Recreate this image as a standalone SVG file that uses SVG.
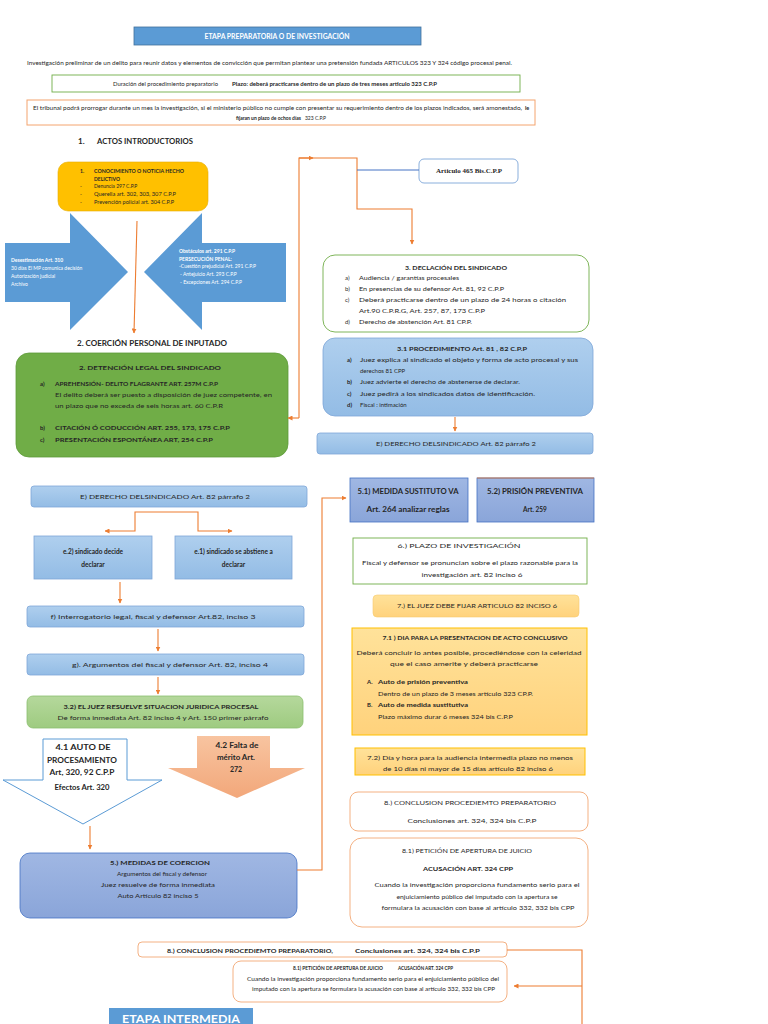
<svg xmlns="http://www.w3.org/2000/svg" width="768" height="1024" viewBox="0 0 768 1024">
<style>
text{font-family:Lato,"Liberation Sans",sans-serif;fill:#262626}
.b{font-weight:bold}
.w{fill:#fff}
.m{text-anchor:middle}
.s5{font-size:5px}.s55{font-size:5.5px}.s6{font-size:6px}.s65{font-size:6.5px}.s7{font-size:7px}.s8{font-size:8px}
.con{fill:none;stroke:#ED7D31;stroke-width:1.1}
.blu{fill:url(#gb);stroke:#7EA6D8;stroke-width:0.8}
.vio{fill:url(#gv);stroke:#4472C4;stroke-width:0.8}
.org{fill:url(#go);stroke:#FFC000;stroke-width:1}
.obox{fill:#fff;stroke:#F4B183;stroke-width:1}
.gbox{fill:#fff;stroke:#70AD47;stroke-width:0.9}
</style>
<defs>
<linearGradient id="gb" x1="0" y1="0" x2="0" y2="1"><stop offset="0" stop-color="#AFCFEE"/><stop offset="1" stop-color="#93BCE5"/></linearGradient>
<linearGradient id="gv" x1="0" y1="0" x2="0" y2="1"><stop offset="0" stop-color="#A0B7E3"/><stop offset="1" stop-color="#8AA5D9"/></linearGradient>
<linearGradient id="go" x1="0" y1="0" x2="0" y2="1"><stop offset="0" stop-color="#FFE29A"/><stop offset="1" stop-color="#FFD27C"/></linearGradient>
<linearGradient id="gs" x1="0" y1="0" x2="0" y2="1"><stop offset="0" stop-color="#F8C4A0"/><stop offset="1" stop-color="#F2A77A"/></linearGradient>
<linearGradient id="gg" x1="0" y1="0" x2="0" y2="1"><stop offset="0" stop-color="#B5D89C"/><stop offset="1" stop-color="#9ECB80"/></linearGradient>
<marker id="ar" viewBox="0 0 10 10" refX="9" refY="5" markerWidth="5" markerHeight="5" markerUnits="userSpaceOnUse" orient="auto-start-reverse"><path d="M0,0L10,5L0,10z" fill="#ED7D31"/></marker>
</defs>

<g id="title"><rect x="134" y="27" width="287" height="18" fill="#5B9BD5" stroke="#41719C" stroke-width="0.8"/><text class="b w m" x="277" y="38.5" font-size="7" textLength="145" lengthAdjust="spacingAndGlyphs">ETAPA PREPARATORIA O DE INVESTIGACIÓN</text></g>

<g id="intro"><text class="s55" x="27" y="65" textLength="485" lengthAdjust="spacingAndGlyphs">Investigación preliminar de un delito para reunir datos y elementos de convicción que permitan plantear una pretensión fundada ARTICULOS 323 Y 324 código procesal penal.</text></g>

<g id="duracion"><rect class="gbox" x="52" y="75" width="468" height="17"/>
<text class="s55" x="113" y="85.5" textLength="105" lengthAdjust="spacingAndGlyphs">Duración del procedimiento preparatorio</text>
<text class="s55 b" x="232" y="85.5" textLength="205" lengthAdjust="spacingAndGlyphs">Plazo: deberá practicarse dentro de un plazo de tres meses articulo 323 C.P.P</text></g>

<g id="prorroga"><rect x="27" y="100" width="508" height="25" fill="#fff" stroke="#F4A46E" stroke-width="1"/>
<text class="s55" x="33" y="110" textLength="489" lengthAdjust="spacingAndGlyphs">El tribunal podrá prorrogar durante un mes la investigación, si el ministerio público no cumple con presentar su requerimiento dentro de los plazos indicados, será amonestado,</text>
<text class="s55 b" x="525" y="110">le</text>
<text class="s5 m" x="281" y="120"><tspan class="b">fijaran un plazo de ochos días</tspan><tspan dx="4">323 C.P.P</tspan></text></g>

<g id="h1"><text class="s8 b" x="78" y="143.5">1.</text><text class="s8 b" x="97" y="143.5" textLength="96" lengthAdjust="spacingAndGlyphs">ACTOS INTRODUCTORIOS</text></g>

<g id="conocimiento"><rect x="58" y="162" width="150" height="49" rx="10" fill="#FFC000" stroke="#E5AC00" stroke-width="0.6"/>
<text class="s5 b" x="80" y="173">1.</text><text class="s5 b" x="94" y="173" textLength="90" lengthAdjust="spacingAndGlyphs">CONOCIMIENTO  O NOTICIA HECHO</text>
<text class="s5 b" x="94" y="180.5">DELICTIVO</text>
<text class="s5" x="80" y="188">-</text><text class="s5" x="94" y="188">Denuncia 297  C.P.P</text>
<text class="s5" x="80" y="195.5">-</text><text class="s5" x="94" y="195.5" textLength="82" lengthAdjust="spacingAndGlyphs">Querella  art. 302, 303, 307 C.P.P</text>
<text class="s5" x="80" y="203.5">-</text><text class="s5" x="94" y="203.5" textLength="80" lengthAdjust="spacingAndGlyphs">Prevención policial  art. 304 C.P.P</text></g>

<g id="desestimacion"><polygon points="5,243 70,243 70,213 128,272 70,330 70,302 5,302" fill="#5B9BD5"/>
<text class="s5 b w" x="11" y="262">Desestimación  Art. 310</text>
<text class="s5 w" x="11" y="270">30 días El MP comunica decisión</text>
<text class="s5 w" x="11" y="278">Autorización judicial</text>
<text class="s5 w" x="11" y="286">Archivo</text></g>

<g id="obstaculos"><polygon points="286,243 202,243 202,213 144,272 202,330 202,302 286,302" fill="#5B9BD5"/>
<text class="s5 b w" x="179" y="252.5">Obstáculos  art. 291 C.P.P</text>
<text class="s5 b w" x="179" y="260.5">PERSECUCIÓN PENAL:</text>
<text class="s5 w" x="179" y="268">-Cuestión prejudicial Art. 291 C.P.P</text>
<text class="s5 w" x="180" y="276">- Antejuicio Art. 293 C.P.P</text>
<text class="s5 w" x="180" y="284">- Excepciones Art. 294 C.P.P</text></g>

<g id="h2"><text class="s7 b" x="77" y="346" textLength="150" lengthAdjust="spacingAndGlyphs">2. COERCIÓN PERSONAL DE INPUTADO</text></g>

<g id="detencion"><rect x="16" y="353" width="272" height="104" rx="13" fill="#70AD47" stroke="#5E9A3A" stroke-width="0.8"/>
<text class="s6 b m" x="150" y="369.5" textLength="142" lengthAdjust="spacingAndGlyphs">2. DETENCIÓN LEGAL DEL SINDICADO</text>
<text class="s6 b" x="40" y="386">a)</text><text class="s6 b" x="55" y="386" textLength="163" lengthAdjust="spacingAndGlyphs">APREHENSIÓN- DELITO FLAGRANTE  ART. 257M C.P.P</text>
<text class="s6" x="55" y="396.5" textLength="217" lengthAdjust="spacingAndGlyphs">El delito deberá ser puesto a disposición de juez competente, en</text>
<text class="s6" x="55" y="407.5" textLength="168" lengthAdjust="spacingAndGlyphs">un plazo que no exceda de seis horas  art. 60 C.P.R</text>
<text class="s6 b" x="40" y="429.5">b)</text><text class="s6 b" x="55" y="429.5" textLength="175" lengthAdjust="spacingAndGlyphs">CITACIÓN Ó CODUCCIÓN  ART. 255, 173, 175 C.P.P</text>
<text class="s6 b" x="40" y="441.5">c)</text><text class="s6 b" x="55" y="441.5" textLength="158" lengthAdjust="spacingAndGlyphs">PRESENTACIÓN ESPONTÁNEA  ART, 254 C.P.P</text></g>

<g id="articulo465"><rect x="419" y="159" width="99" height="24" rx="5" fill="#fff" stroke="#7EA6D8" stroke-width="0.9"/>
<text class="m" x="469" y="173" font-size="5.5" font-weight="bold" style="font-family:'Liberation Serif',serif" textLength="66" lengthAdjust="spacingAndGlyphs">Articulo 465 Bis.C.P.P</text></g>

<g id="declaracion"><rect class="gbox" x="323" y="255" width="266" height="77" rx="12"/>
<text class="s6 b m" x="456" y="269.5" textLength="102" lengthAdjust="spacingAndGlyphs">3. DECLACIÓN DEL SINDICADO</text>
<text class="s6" x="345" y="280">a)</text><text class="s6" x="359" y="280" textLength="100" lengthAdjust="spacingAndGlyphs">Audiencia / garantías procesales</text>
<text class="s6" x="345" y="290.5">b)</text><text class="s6" x="359" y="290.5" textLength="145" lengthAdjust="spacingAndGlyphs">En presencias de su defensor  Art. 81, 92 C.P.P</text>
<text class="s6" x="345" y="302">c)</text><text class="s6" x="359" y="302" textLength="207" lengthAdjust="spacingAndGlyphs">Deberá practicarse dentro de un plazo de 24 horas o citación</text>
<text class="s6" x="359" y="313" textLength="126" lengthAdjust="spacingAndGlyphs">Art.90 C.P.R.G, Art. 257, 87, 173 C.P.P</text>
<text class="s6" x="345" y="324">d)</text><text class="s6" x="359" y="324" textLength="113" lengthAdjust="spacingAndGlyphs">Derecho de abstención  Art. 81 CP.P.</text></g>

<g id="procedimiento"><rect class="blu" x="323" y="338" width="270" height="78" rx="12"/>
<text class="s6 b m" x="462" y="351" textLength="130" lengthAdjust="spacingAndGlyphs">3.1  PROCEDIMIENTO  Art. 81 , 82  C.P.P</text>
<text class="s6 b" x="347" y="361.5">a)</text><text class="s6" x="360" y="361.5" textLength="218" lengthAdjust="spacingAndGlyphs">Juez explica al sindicado el objeto y forma de acto procesal y sus</text>
<text class="s6" x="360" y="372.5">derechos  81 CPP</text>
<text class="s6 b" x="347" y="384">b)</text><text class="s6" x="360" y="384" textLength="160" lengthAdjust="spacingAndGlyphs">Juez advierte el derecho de abstenerse de declarar.</text>
<text class="s6 b" x="347" y="395.5">c)</text><text class="s6" x="360" y="395.5" textLength="175" lengthAdjust="spacingAndGlyphs">Juez pedirá a los sindicados datos de identificación.</text>
<text class="s6 b" x="347" y="407">d)</text><text class="s6" x="360" y="407">Fiscal : intimación</text></g>

<g id="derechoR"><rect class="blu" x="317" y="433" width="276" height="21" rx="3"/>
<text class="s6 m" x="456" y="446" textLength="160" lengthAdjust="spacingAndGlyphs">E) DERECHO DELSINDICADO   Art. 82   párrafo 2</text></g>

<g id="derechoL"><rect class="blu" x="31" y="486" width="276" height="21" rx="3"/>
<text class="s6 m" x="165" y="499" textLength="170" lengthAdjust="spacingAndGlyphs">E) DERECHO DELSINDICADO   Art. 82   párrafo 2</text></g>

<g id="e2"><rect class="blu" x="34" y="536" width="118" height="43" stroke="#5B9BD5"/>
<text class="s65 b m" x="93" y="554">e.2) sindicado decide</text>
<text class="s65 b m" x="93" y="567">declarar</text></g>

<g id="e1"><rect class="blu" x="175" y="536" width="117" height="43" stroke="#5B9BD5"/>
<text class="s65 b m" x="233.5" y="554">e.1) sindicado se abstiene a</text>
<text class="s65 b m" x="233.5" y="567">declarar</text></g>

<g id="f"><rect class="blu" x="27" y="606" width="277" height="21" rx="3"/>
<text class="s6 m" x="153" y="619" textLength="205" lengthAdjust="spacingAndGlyphs">f)  Interrogatorio legal, fiscal y defensor  Art.82, inciso 3</text></g>

<g id="g"><rect class="blu" x="27" y="654" width="277" height="21" rx="3"/>
<text class="s6 m" x="170" y="667" textLength="196" lengthAdjust="spacingAndGlyphs">g). Argumentos del fiscal y defensor  Art. 82, inciso 4</text></g>

<g id="resuelve"><rect x="27" y="696" width="276" height="32" rx="6" fill="url(#gg)" stroke="#8CBF6E" stroke-width="0.8"/>
<text class="s6 b m" x="161" y="708.5" textLength="195" lengthAdjust="spacingAndGlyphs">3.2) EL JUEZ RESUELVE SITUACION JURIDICA PROCESAL</text>
<text class="s6 m" x="163" y="720" textLength="211" lengthAdjust="spacingAndGlyphs">De forma inmediata Art. 82 inciso 4 y Art. 150   primer párrafo</text></g>

<g id="auto41"><polygon points="43,739 127,739 127,780 162,780 83,824 3,780 43,780" fill="#fff" stroke="#5B9BD5" stroke-width="1"/>
<text class="s7 b m" x="83" y="750" textLength="55" lengthAdjust="spacingAndGlyphs">4.1 AUTO DE</text>
<text class="s7 b m" x="82" y="762.5" textLength="70" lengthAdjust="spacingAndGlyphs">PROCESAMIENTO</text>
<text class="s7 b m" x="82" y="775" textLength="65" lengthAdjust="spacingAndGlyphs">Art, 320, 92 C.P.P</text>
<text class="s7 b m" x="82" y="789.5" textLength="55" lengthAdjust="spacingAndGlyphs">Efectos Art. 320</text></g>

<g id="falta42"><polygon points="197,736 270,736 270,768 305,768 237,798 168,768 197,768" fill="url(#gs)"/>
<text class="s7 b m" x="237" y="747.5" textLength="43" lengthAdjust="spacingAndGlyphs">4.2 Falta de</text>
<text class="s7 b m" x="236" y="759.5" textLength="38" lengthAdjust="spacingAndGlyphs">mérito  Art.</text>
<text class="s7 b m" x="236" y="771.5">272</text></g>

<g id="medidas"><rect class="vio" x="20" y="853" width="277" height="65" rx="10" stroke="#7F9BD1"/>
<text class="s6 b m" x="160" y="864.5" textLength="100" lengthAdjust="spacingAndGlyphs">5.) MEDIDAS DE COERCION</text>
<text class="s6 m" x="162" y="875.5" textLength="90" lengthAdjust="spacingAndGlyphs">Argumentos del fiscal y defensor</text>
<text class="s6 m" x="158" y="887" textLength="114" lengthAdjust="spacingAndGlyphs">Juez resuelve de forma inmediata</text>
<text class="s6 m" x="158" y="898" textLength="81" lengthAdjust="spacingAndGlyphs">Auto Artículo 82 inciso 5</text></g>

<g id="m51"><rect class="vio" x="350" y="478" width="118" height="44"/>
<text class="s7 b m" x="408" y="493.5" textLength="101" lengthAdjust="spacingAndGlyphs">5.1) MEDIDA SUSTITUTO VA</text>
<text class="s65 b m" x="408" y="511.5" textLength="83" lengthAdjust="spacingAndGlyphs">Art. 264 analizar reglas</text></g>

<g id="m52"><rect class="vio" x="477" y="478" width="117" height="44"/><line x1="477" y1="478" x2="594" y2="478" stroke="#C97B4E" stroke-width="1"/>
<text class="s7 b m" x="535" y="493.5" textLength="96" lengthAdjust="spacingAndGlyphs">5.2) PRISIÓN PREVENTIVA</text>
<text class="s65 b m" x="535" y="511.5">Art. 259</text></g>

<g id="plazo6"><rect class="gbox" x="353" y="538" width="234" height="46"/>
<text class="s6 m" x="459" y="547.5" textLength="123" lengthAdjust="spacingAndGlyphs">6.)  PLAZO DE INVESTIGACIÓN</text>
<text class="s6 m" x="470" y="565" textLength="216" lengthAdjust="spacingAndGlyphs">Fiscal y defensor se pronuncian sobre el plazo razonable para la</text>
<text class="s6 m" x="472" y="577" textLength="101" lengthAdjust="spacingAndGlyphs">investigación art. 82 inciso 6</text></g>

<g id="juez7"><rect x="373" y="595" width="206" height="22" rx="4" fill="url(#go)" stroke="#F6CB6E" stroke-width="0.6"/>
<text class="s6 m" x="477" y="608" textLength="160" lengthAdjust="spacingAndGlyphs">7.) EL JUEZ DEBE FIJAR  ARTICULO 82 INCISO 6</text></g>

<g id="dia71"><rect class="org" x="352" y="628" width="235" height="107"/>
<text class="s6 b m" x="475" y="639.5" textLength="185" lengthAdjust="spacingAndGlyphs">7.1 ) DIA PARA LA PRESENTACION DE ACTO CONCLUSIVO</text>
<text class="s6 m" x="469" y="655" textLength="225" lengthAdjust="spacingAndGlyphs">Deberá concluir lo antes posible, procediéndose con la celeridad</text>
<text class="s6 m" x="464" y="665.5" textLength="148" lengthAdjust="spacingAndGlyphs">que el caso amerite y deberá practicarse</text>
<text class="s6 b" x="367" y="683.5">A.</text><text class="s6 b" x="378" y="683.5" textLength="90" lengthAdjust="spacingAndGlyphs">Auto de prisión preventiva</text>
<text class="s6" x="378" y="695.5" textLength="155" lengthAdjust="spacingAndGlyphs">Dentro de un plazo de 3 meses artículo 323 CP.P.</text>
<text class="s6 b" x="367" y="707">B.</text><text class="s6 b" x="378" y="707" textLength="90" lengthAdjust="spacingAndGlyphs">Auto de medida sustitutiva</text>
<text class="s6" x="378" y="719" textLength="135" lengthAdjust="spacingAndGlyphs">Plazo máximo durar 6 meses 324 bis C.P.P</text></g>

<g id="dia72"><rect class="org" x="355" y="748" width="230" height="27"/>
<text class="s6 m" x="470" y="759.5" textLength="206" lengthAdjust="spacingAndGlyphs">7.2) Día  y hora para la audiencia intermedia plazo no menos</text>
<text class="s6 m" x="468" y="771" textLength="170" lengthAdjust="spacingAndGlyphs">de 10 días ni mayor de 15 días  artículo 82 inciso 6</text></g>

<g id="conclusion8"><rect class="obox" x="350" y="792" width="238" height="39" rx="8"/>
<text class="s6 m" x="470" y="805" textLength="172" lengthAdjust="spacingAndGlyphs">8.) CONCLUSION PROCEDIEMTO PREPARATORIO</text>
<text class="s6 m" x="472" y="822.5" textLength="129" lengthAdjust="spacingAndGlyphs">Conclusiones art. 324, 324 bis  C.P.P</text></g>

<g id="peticion81"><rect class="obox" x="350" y="838" width="238" height="89" rx="12"/>
<text class="s6 m" x="467" y="853" textLength="130" lengthAdjust="spacingAndGlyphs">8.1) PETICIÓN DE APERTURA DE JUICIO</text>
<text class="s6 b m" x="468" y="870.5" textLength="90" lengthAdjust="spacingAndGlyphs">ACUSACIÓN ART. 324 CPP</text>
<text class="s6 m" x="477" y="887" textLength="205" lengthAdjust="spacingAndGlyphs">Cuando la investigación proporciona fundamento serio para el</text>
<text class="s6 m" x="477" y="898.5" textLength="161" lengthAdjust="spacingAndGlyphs">enjuiciamiento público del imputado con la apertura se</text>
<text class="s6 m" x="478" y="910" textLength="193" lengthAdjust="spacingAndGlyphs">formulara la acusación con base al artículo 332, 332 bis CPP</text></g>

<g id="conclusion8b"><rect class="obox" x="138" y="942" width="369" height="15" rx="4"/>
<text class="s6 b" x="167" y="952.5" textLength="166" lengthAdjust="spacingAndGlyphs">8.) CONCLUSION PROCEDIEMTO PREPARATORIO,</text>
<text class="s6 b" x="355" y="952.5" textLength="125" lengthAdjust="spacingAndGlyphs">Conclusiones art. 324, 324 bis  C.P.P</text></g>

<g id="peticion81b"><rect class="obox" x="233" y="961" width="274" height="41" rx="8"/>
<text class="s5 b" x="293" y="969.5" textLength="90" lengthAdjust="spacingAndGlyphs">8.1) PETICIÓN DE APERTURA DE JUICIO</text>
<text class="s5 b" x="398" y="969.5" textLength="55" lengthAdjust="spacingAndGlyphs">ACUSACIÓN ART. 324 CPP</text>
<text class="s5" x="247" y="980.5" textLength="252" lengthAdjust="spacingAndGlyphs">Cuando la investigación proporciona fundamento serio para el enjuiciamiento público del</text>
<text class="s5" x="252" y="990.5" textLength="243" lengthAdjust="spacingAndGlyphs">imputado con la apertura se formulara la acusación con base al artículo 332, 332 bis CPP</text></g>

<g id="intermedia"><rect x="109" y="1008" width="144" height="22" fill="#5B9BD5"/>
<text class="b w m" x="181" y="1023" font-size="11" textLength="118" lengthAdjust="spacingAndGlyphs">ETAPA INTERMEDIA</text></g>

<g id="connectors">
<path class="con" d="M137,221 L134,333" marker-end="url(#ar)"/>
<path class="con" d="M299,418 H288" marker-end="url(#ar)"/>
<path class="con" d="M299,418 V158 H357 V209 H412 V244" marker-end="url(#ar)"/>
<path class="con" d="M299,158 H313" marker-end="url(#ar)"/>
<path d="M357,170 H419" fill="none" stroke="#4472C4" stroke-width="1"/>
<path class="con" d="M455,417 V431" marker-end="url(#ar)"/>
<path class="con" d="M105,531 H135 V512 H198 V531 H232" marker-start="url(#ar)" marker-end="url(#ar)"/>
<path class="con" d="M120,582 V603" marker-end="url(#ar)"/>
<path class="con" d="M158,629 V651" marker-end="url(#ar)"/>
<path class="con" d="M158,677 V694" marker-end="url(#ar)"/>
<path class="con" d="M90,826 V849" marker-end="url(#ar)"/>
<path class="con" d="M297,870 H322 V498 H346" marker-end="url(#ar)"/>
<path class="con" d="M507,950 H582 V1024"/>
<path class="con" d="M582,986 H514" marker-end="url(#ar)"/>
</g>
</svg>
